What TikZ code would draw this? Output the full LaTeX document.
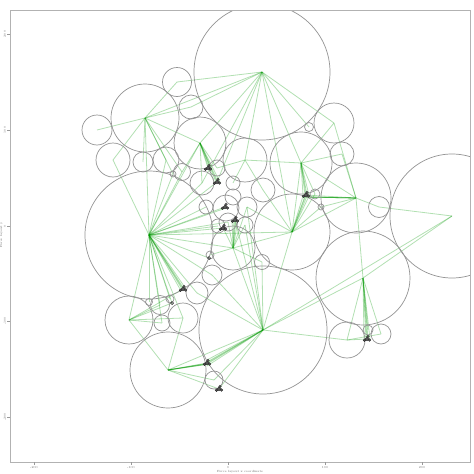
\documentclass[tikz,border=0pt]{standalone}
\usepackage{tikz}
\usetikzlibrary{calc}
\tikzset{
    ring/.style={draw=black!42, line width=0.7pt},
    link/.style={draw=green!60!black, opacity=0.3, line width=0.8pt},
    blob/.style={draw=black!85, fill=black!65, line width=0.4pt},
    ticklabel/.style={font=\fontsize{3}{3}\selectfont, text=black!60, inner sep=0.5pt},
    axistitle/.style={font=\fontsize{3}{3}\selectfont, text=black!60, inner sep=0.5pt}
}

\begin{document}
\begin{tikzpicture}[x=1pt, y=-1pt]
    \useasboundingbox[fill=white] (0,0) rectangle (474,474);

    % circle centres (big ones)
    \coordinate (T) at (262,72);   \coordinate (L) at (149,235);
    \coordinate (B) at (263,330);  \coordinate (R) at (452,216);
    \coordinate (RM) at (363,278); \coordinate (M) at (292,232);
    \coordinate (RU) at (356,198); \coordinate (UR) at (301,163);
    \coordinate (UL) at (145,118); \coordinate (D) at (168,370);
    \coordinate (LL) at (129,320);
    % smaller ones
    \coordinate (FL) at (97,130);  \coordinate (LR1) at (113,160);
    \coordinate (LR2) at (143,162); \coordinate (LR3) at (166,160);
    \coordinate (TS) at (177,82);  \coordinate (TS2) at (191,107);
    \coordinate (UM) at (200,143); \coordinate (MA) at (245,160);
    \coordinate (SR1) at (334,123); \coordinate (SR2) at (342,154);
    \coordinate (SR0) at (309,127); \coordinate (SR3) at (379,207);
    \coordinate (MS) at (263,190); \coordinate (CB) at (233,248);
    \coordinate (s1) at (212,275); \coordinate (s2) at (262,262);
    \coordinate (s3) at (197,293); \coordinate (s4) at (183,318);
    \coordinate (s5) at (162,323); \coordinate (s6) at (160,305);
    \coordinate (s7) at (149,302); \coordinate (s8) at (170,299);
    \coordinate (BR1) at (347,340); \coordinate (BR2) at (381,334);
    \coordinate (BR3) at (368,330); \coordinate (BS) at (214,380);
    \coordinate (k1) at (182,172); \coordinate (k2) at (173,174);
    \coordinate (k3) at (202,183); \coordinate (k4) at (217,168);
    \coordinate (k5) at (233,183); \coordinate (k6) at (233,197);
    \coordinate (k7) at (247,207); \coordinate (k8) at (226,208);
    \coordinate (k9) at (206,207); \coordinate (k10) at (228,222);
    \coordinate (k11) at (245,225); \coordinate (k12) at (218,226);
    \coordinate (k13) at (210,255); \coordinate (k14) at (315,194);
    \coordinate (k15) at (321,207);
    % dense hubs
    \coordinate (h1) at (217,182); \coordinate (h2) at (225,207);
    \coordinate (h3) at (235,220); \coordinate (h4) at (223,228);
    \coordinate (h5) at (208,168); \coordinate (h6) at (183,289);
    \coordinate (h7) at (306,195); \coordinate (h8) at (367,339);
    \coordinate (h9) at (207,363); \coordinate (h10) at (172,303);
    \coordinate (h11) at (219,389); \coordinate (h12) at (209,258);

    % green links
    \foreach \a/\b in {T/TS, T/UL, T/UM, T/MA, T/UR, T/SR1, T/SR0, T/M, T/k3, T/h1, T/TS2,
        UL/FL, UL/LR1, UL/LR2, UL/LR3, UL/k1, UL/UM, UL/L, UL/TS, UL/TS2, UL/k2,
        L/LR1, L/LR3, L/k1, L/k2, L/UM, L/k3, L/k9, L/k8, L/k10, L/CB, L/s1, L/s3,
        L/s4, L/s5, L/s6, L/s7, L/s8, L/LL, L/h6, L/h10, L/k12, L/h4, L/h12, L/h1, L/h2,
        B/CB, B/s2, B/s1, B/s3, B/M, B/RM, B/BR1, B/R, B/D, B/BS, B/h9, B/h11, B/k11, B/h3, B/k7,
        M/UR, M/RU, M/CB, M/k7, M/MS, M/h7, M/k14, M/k15, M/L,
        RU/h7, RU/k15, RU/SR3, RU/UR, RU/SR2, RU/SR1, RU/RM, R/SR3, R/RM,
        RM/BR1, RM/BR2, RM/BR3, RM/h8, BR1/h8, BR1/BR2,
        UR/SR1, UR/SR2, UR/h7, UR/k14, UR/MA,
        D/LL, D/BS, D/h9, D/s4, D/h11, LL/s5, LL/s6, LL/s4, LL/h6, LL/h10,
        MA/k4, MA/k5, MA/MS, UM/k1, UM/k3, UM/k4, UM/h5, UM/h1,
        CB/k7, CB/k10, CB/k11, CB/h3, CB/h4, CB/s2, CB/k13} {
        \draw[link] (\a) -- (\b);
    }
    % heavier fans into the dense clusters
    \foreach \dx in {-3,-1,1,3} {
        \draw[link] (L) -- ($(h6)+(\dx,0)$);
        \draw[link] (B) -- ($(h9)+(0,\dx)$);
        \draw[link] (D) -- ($(h9)+(\dx,1)$);
        \draw[link] (CB) -- ($(h3)+(\dx,0)$);
        \draw[link] (UR) -- ($(h7)+(\dx,0)$);
        \draw[link] (RU) -- ($(h7)+(\dx,2)$);
        \draw[link] (RM) -- ($(h8)+(\dx,0)$);
        \draw[link] (M) -- ($(h7)+(\dx,1)$);
        \draw[link] (UM) -- ($(h1)+(\dx,0)$);
    }

    \begin{scope}
        \clip (10,10) rectangle (470,462);
        % big circles
        \foreach \c/\r in {T/68, L/64, B/64, R/62, RM/47, M/38, RU/35, UR/31,
            UL/34, D/38, LL/24} {
            \draw[ring] (\c) circle[radius=\r pt];
        }
        % small circles
        \foreach \c/\r in {FL/15, LR1/17, LR2/10, LR3/13, TS/14.5, TS2/12, UM/26,
            MA/22, SR1/20, SR2/12, SR0/4.5, SR3/10.5, MS/12, CB/22, s1/10, s2/7.5,
            s3/11, s4/15, s5/8, s6/9.5, s7/3.5, s8/4, BR1/18, BR2/10, BR3/5, BS/9,
            k1/8.5, k2/3, k3/12, k4/8, k5/7, k6/8, k7/10, k8/13, k9/7, k10/9,
            k11/8, k12/7, k13/4, k14/5, k15/3} {
            \draw[ring] (\c) circle[radius=\r pt];
        }
    \end{scope}

    % dense clusters of tiny circles
    \foreach \h in {h1, h2, h3, h4, h5, h6, h7, h8, h9, h11} {
        \draw[blob] (\h) circle[radius=1.8pt];
        \draw[blob] ($(\h)+(2.5,1)$) circle[radius=1.4pt];
        \draw[blob] ($(\h)+(-2.5,1.2)$) circle[radius=1.3pt];
        \draw[ring, draw=black!80] ($(\h)+(1,-2.5)$) circle[radius=1.1pt];
    }
    \draw[ring, draw=black!80] (h10) circle[radius=1.5pt];
    \draw[ring, draw=black!80] (h12) circle[radius=1.5pt];

    % axes frame
    \draw[draw=black!30, line width=0.7pt] (10,10) rectangle (470,462);
    \foreach \x/\t in {34/-200, 131/-100, 228/0, 325/100, 422/200} {
        \draw[draw=black!40, line width=0.3pt] (\x,462) -- (\x,465);
        \node[ticklabel] (xt\x) at (\x,468) {\t};
    }
    \foreach \y/\t in {34/200, 130/100, 226/0, 321/-100, 417/-200} {
        \draw[draw=black!40, line width=0.3pt] (10,\y) -- (7,\y);
        \node[ticklabel, rotate=90] (yt\y) at (5,\y) {\t};
    }
    \node[axistitle] (xtitle) at (240,472) {Force layout x coordinate};
    \node[axistitle, rotate=90] (ytitle) at (1.5,235) {Force layout y};
\end{tikzpicture}
\end{document}
